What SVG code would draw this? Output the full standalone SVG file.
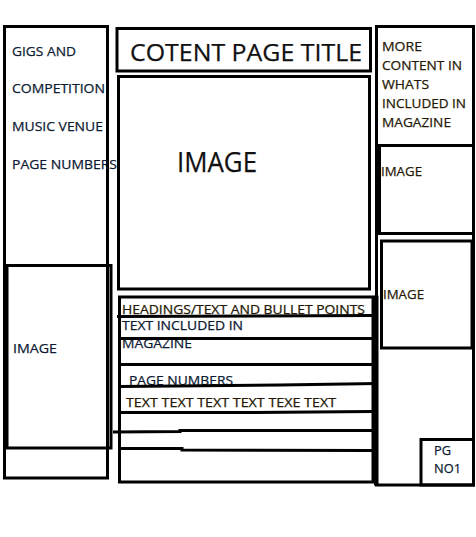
<svg xmlns="http://www.w3.org/2000/svg" width="476" height="537" viewBox="0 0 476 537">
<style>
.box{fill:none;stroke:#000;stroke-width:3}
.rule{fill:none;stroke:#000;stroke-width:3}
text{font-family:"Open Sans","Noto Sans","Liberation Sans",sans-serif;font-size:13.5px;stroke-width:0.25}
.b{fill:#0d1a33;stroke:#0d1a33}
.o{fill:#261805;stroke:#261805}
.s{font-size:12.5px}
.big{font-size:27px;fill:#111;stroke:#111}
.title{font-size:24px;fill:#111;stroke:#111}
</style>
<rect width="476" height="537" fill="#fff"/>
<g id="left-column">
<rect class="box" x="4.5" y="26.5" width="103" height="451.5"/>
<text class="b" x="12" y="56" textLength="64" lengthAdjust="spacingAndGlyphs">GIGS AND</text>
<text class="b" x="12" y="93" textLength="93" lengthAdjust="spacingAndGlyphs">COMPETITION</text>
<text class="b" x="12" y="131" textLength="91" lengthAdjust="spacingAndGlyphs">MUSIC VENUE</text>
<text class="b" x="12" y="169" textLength="105" lengthAdjust="spacingAndGlyphs">PAGE NUMBERS</text>
</g>
<g id="left-image">
<rect class="box" x="7" y="265.5" width="104" height="182.5"/>
<text class="b" x="13" y="353" textLength="44" lengthAdjust="spacingAndGlyphs">IMAGE</text>
</g>
<g id="title">
<rect class="box" x="117" y="28.5" width="253.5" height="42.5"/>
<text class="title" x="130" y="61" textLength="232" lengthAdjust="spacingAndGlyphs">COTENT PAGE TITLE</text>
</g>
<g id="main-image">
<rect class="box" x="118.5" y="76.5" width="251" height="212.5"/>
<text class="big" x="177" y="172" textLength="80" lengthAdjust="spacingAndGlyphs">IMAGE</text>
</g>
<g id="text-box">
<rect class="box" x="119.5" y="297" width="253.5" height="185"/>
<text class="o s" x="122" y="314" textLength="243" lengthAdjust="spacingAndGlyphs">HEADINGS/TEXT AND BULLET POINTS</text>
<text class="b s" x="122" y="330" textLength="121" lengthAdjust="spacingAndGlyphs">TEXT INCLUDED IN</text>
<text class="b" x="122" y="348" textLength="70" lengthAdjust="spacingAndGlyphs">MAGAZINE</text>
<text class="b" x="129" y="385" textLength="104" lengthAdjust="spacingAndGlyphs">PAGE NUMBERS</text>
<text class="o" x="126" y="407" textLength="210" lengthAdjust="spacingAndGlyphs">TEXT TEXT TEXT TEXT TEXE TEXT</text>
</g>
<g id="connectors">
<polyline class="rule" points="117,316.5 372,315.5"/>
<polyline class="rule" points="119,338.5 372,338.5"/>
<polyline class="rule" points="119,364.5 372,364.5"/>
<polyline class="rule" points="119,386.5 280,385 378,383.5"/>
<polyline class="rule" points="119,412.5 250,412.5 372,411.5"/>
<polyline class="rule" points="113,432 180,431.5 180,430.5 310,430.5 372,430.5"/>
<polyline class="rule" points="119,448.5 182,448.5 182,450 372,450.5"/>
</g>
<g id="right-column">
<rect class="box" x="376.5" y="26.5" width="97" height="458.5"/>
<rect class="box" x="375.5" y="297" width="1.5" height="187" fill="#000"/>
<text class="o" x="382" y="51" textLength="40" lengthAdjust="spacingAndGlyphs">MORE</text>
<text class="o" x="382" y="70" textLength="80" lengthAdjust="spacingAndGlyphs">CONTENT IN</text>
<text class="o" x="382" y="89" textLength="47" lengthAdjust="spacingAndGlyphs">WHATS</text>
<text class="o" x="382" y="108" textLength="84" lengthAdjust="spacingAndGlyphs">INCLUDED IN</text>
<text class="o" x="382" y="127" textLength="69" lengthAdjust="spacingAndGlyphs">MAGAZINE</text>
</g>
<g id="right-image-1">
<rect class="box" x="379.5" y="145.5" width="94" height="88"/>
<text class="o" x="381" y="176" textLength="41" lengthAdjust="spacingAndGlyphs">IMAGE</text>
</g>
<g id="right-image-2">
<rect class="box" x="381.5" y="241" width="90.5" height="107"/>
<text class="o" x="383" y="299" textLength="41" lengthAdjust="spacingAndGlyphs">IMAGE</text>
</g>
<g id="page-number">
<rect class="box" x="421" y="439.5" width="52.5" height="45.5"/>
<text class="b" x="434" y="455" textLength="17" lengthAdjust="spacingAndGlyphs">PG</text>
<text class="b" x="434" y="473" textLength="27" lengthAdjust="spacingAndGlyphs">NO1</text>
</g>
</svg>
